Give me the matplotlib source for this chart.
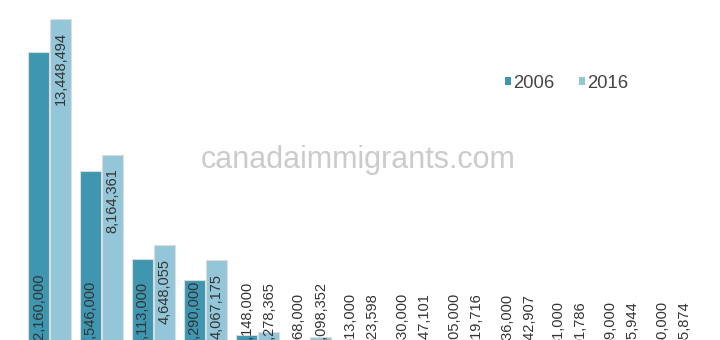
import matplotlib
matplotlib.use("Agg")
import matplotlib.pyplot as plt
import numpy as np
from matplotlib.patches import Patch

plt.rcParams['font.family'] = ['Liberation Sans', 'DejaVu Sans']

groups = list(range(13))
values_2006 = [12160000, 7546000, 4113000, 3290000, 1148000, 968000, 513000,
               330000, 205000, 136000, 81000, 69000, 50000]
values_2016 = [13448494, 8164361, 4648055, 4067175, 1278365, 1098352, 623598,
               447101, 219716, 142907, 91786, 75944, 55874]
series_names = ["2006", "2016"]
colors = ["#3f96b0", "#93c6d9"]

W, H = 720, 340
dpi = 100
fig = plt.figure(figsize=(W / dpi, H / dpi), dpi=dpi)
fig.patch.set_facecolor("white")

base_px = 365.0           # baseline position (pixels from top), below the crop
px_per_unit = 2.574e-5
ymax = base_px / px_per_unit
ax = fig.add_axes([23.5 / W, (H - base_px) / H, 676 / W, base_px / H])
ax.set_xlim(-0.5, 12.5)
ax.set_ylim(0, ymax)
ax.axis("off")

x = np.arange(len(groups))
bw = 0.39
off = 0.21
for vals, sgn, col in [(values_2006, -1, colors[0]), (values_2016, 1, colors[1])]:
    ax.bar(x + sgn * off, vals, width=bw, color=col, edgecolor="#dcdcdc",
           linewidth=0.8, zorder=2)

pt = 72.0 / dpi  # points per pixel
fs = 10.5
char_px = 7.5
base_off = 18.5
for i in x:
    lab = f"{values_2006[i]:,}"
    ax.annotate(lab, (i - off, 0), xytext=(0, base_off * pt), textcoords="offset points",
                rotation=90, ha="center", va="bottom", fontsize=fs, color="#333333",
                zorder=3)
    lab2 = f"{values_2016[i]:,}"
    h_px = values_2016[i] * px_per_unit
    if h_px > 13 + len(lab2) * char_px + base_off:
        ax.annotate(lab2, (i + off, values_2016[i]), xytext=(0, -13.5 * pt),
                    textcoords="offset points", rotation=90, ha="center", va="top",
                    fontsize=fs, color="#333333", zorder=3)
    else:
        ax.annotate(lab2, (i + off, 0), xytext=(0, base_off * pt), textcoords="offset points",
                    rotation=90, ha="center", va="bottom", fontsize=fs, color="#333333",
                    zorder=3)

fig.text(358 / W, 1 - 160 / H, "canadaimmigrants.com", ha="center", va="center",
         fontsize=22, color="#cbcbcb")

handles = [Patch(facecolor=c, edgecolor="none") for c in colors]
leg = fig.legend(handles, series_names, loc="center left",
                 bbox_to_anchor=(505 / W, 1 - 83 / H), ncol=2, frameon=False,
                 fontsize=13.3, handlelength=0.33, handleheight=0.33,
                 handletextpad=0.12, columnspacing=1.3, labelcolor="#444444",
                 borderpad=0, borderaxespad=0)

fig.savefig("out.png", dpi=dpi, facecolor="white")
